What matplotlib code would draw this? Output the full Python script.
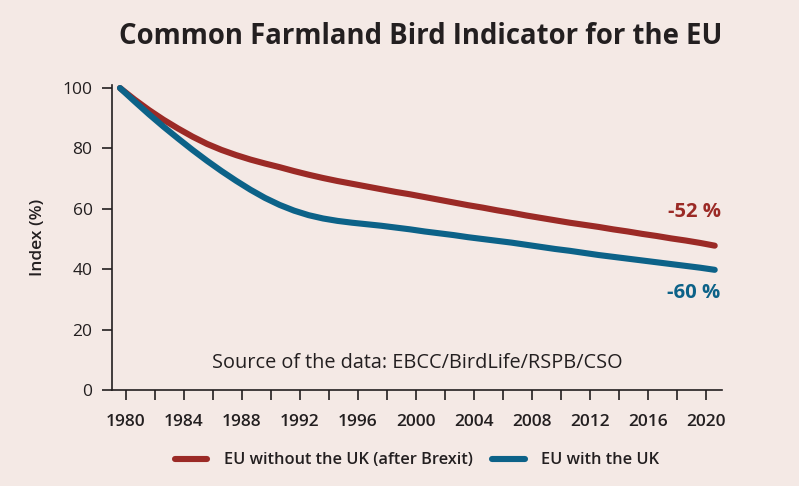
import matplotlib.pyplot as plt
import numpy as np

plt.rcParams['font.family'] = ['Open Sans', 'DejaVu Sans']

years = np.arange(1980, 2022)
eu_without_uk = [100, 96.2, 92.7, 89.5, 86.6, 83.9, 81.5, 79.5, 77.8, 76.3,
                 75.0, 73.8, 72.5, 71.3, 70.2, 69.2, 68.3, 67.4, 66.5, 65.6,
                 64.8, 63.9, 63.0, 62.1, 61.2, 60.4, 59.5, 58.7, 57.8, 57.0,
                 56.2, 55.4, 54.7, 54.0, 53.2, 52.5, 51.7, 51.0, 50.2, 49.5,
                 48.7, 47.8]
eu_with_uk = [100, 95.6, 91.3, 87.2, 83.3, 79.5, 75.9, 72.5, 69.3, 66.3,
              63.6, 61.3, 59.4, 57.9, 56.8, 56.0, 55.4, 54.9, 54.4, 53.8,
              53.2, 52.5, 51.9, 51.3, 50.6, 50.0, 49.4, 48.8, 48.1, 47.4,
              46.7, 46.1, 45.4, 44.7, 44.1, 43.5, 42.9, 42.3, 41.7, 41.1,
              40.5, 39.8]
tick_years = np.arange(1980, 2021, 2)
label_years = [str(y) if y % 4 == 0 else '' for y in tick_years]
labels = ['EU without the UK (after Brexit)', 'EU with the UK']
changes = ['-52 %', '-60 %']

bg = '#f4e9e5'
red = '#9b2a26'
blue = '#0c6288'
ink = '#231f20'

fig = plt.figure(figsize=(7.99, 4.86), dpi=100, facecolor=bg)
ax = fig.add_axes([0.1402, 0.1975, 0.7634, 0.6276], facecolor=bg)

l1, = ax.plot(years, eu_without_uk, color=red, lw=4.4, solid_capstyle='round')
l2, = ax.plot(years, eu_with_uk, color=blue, lw=4.4, solid_capstyle='round')

ax.set_xlim(1979.45, 2021.5)
ax.set_ylim(0, 101)
ax.set_yticks([0, 20, 40, 60, 80, 100])
ax.set_xticks(tick_years + 0.4)
ax.set_xticklabels(label_years, fontsize=12.5, fontweight='semibold', color=ink)
ax.tick_params(axis='y', labelsize=12.5, colors=ink, length=7, width=1.2, pad=7)
ax.tick_params(axis='x', length=7, width=1.2, pad=10, colors=ink)
for s in ['top', 'right']:
    ax.spines[s].set_visible(False)
for s in ['left', 'bottom']:
    ax.spines[s].set_color(ink)
    ax.spines[s].set_linewidth(1.2)

ax.set_ylabel('Index (%)', fontsize=12.5, fontweight='semibold', color=ink, labelpad=12)

ax.text(2021.4, eu_without_uk[-1] + 11.3, changes[0], color=red, fontsize=14.6,
        fontweight='bold', ha='right', va='center')
ax.text(2021.4, eu_with_uk[-1] - 7.6, changes[1], color=blue, fontsize=14.6,
        fontweight='bold', ha='right', va='center')
ax.text(0.5, 0.09, 'Source of the data: EBCC/BirdLife/RSPB/CSO', transform=ax.transAxes,
        fontsize=14.3, color=ink, ha='center', va='center')

fig.text(0.527, 0.924, 'Common Farmland Bird Indicator for the EU', fontsize=19.8,
         fontweight='bold', color=ink, ha='center', va='center')

fig.legend([l1, l2], labels, loc='center', bbox_to_anchor=(0.522, 0.053), ncol=2,
           frameon=False, handlelength=2.0, handletextpad=1.0, columnspacing=1.2,
           prop={'size': 11.8, 'weight': 'semibold'}, labelcolor=ink)

fig.savefig('out.png', dpi=100, facecolor=bg)
